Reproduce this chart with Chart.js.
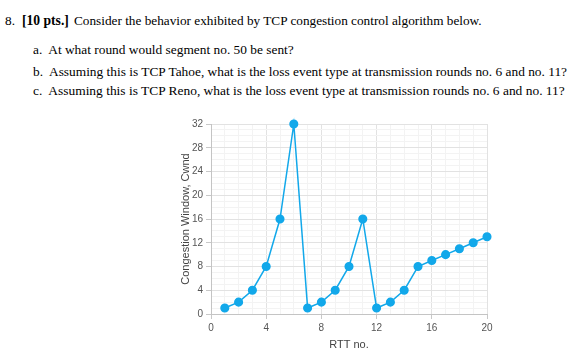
<!DOCTYPE html>
<html><head><meta charset="utf-8">
<script src="https://cdn.jsdelivr.net/npm/chart.js@4/dist/chart.umd.min.js"></script>
<style>
html,body{margin:0;padding:0;background:#fff;width:576px;height:356px;overflow:hidden}
.q{position:absolute;font-family:"Liberation Serif","Times New Roman",serif;font-size:13.4px;color:#000;white-space:nowrap;line-height:16px}
#wrap{position:absolute;left:160px;top:110px;width:340px;height:246px}
</style></head><body>
<div class="q" id="n8" style="left:5px;top:13px;font-size:14px">8.</div>
<div class="q" style="left:22px;top:13px;font-size:13.6px"><b>[10 pts.]</b></div>
<div class="q" id="l1" style="left:74px;top:13px;font-size:14.5px">Consider the behavior exhibited by TCP congestion control algorithm below.</div>
<div class="q" id="la" style="left:33px;top:42px">a.&nbsp; At what round would segment no. 50 be sent?</div>
<div class="q" id="lb" style="left:33px;top:64px">b.&nbsp; Assuming this is TCP Tahoe, what is the loss event type at transmission rounds no. 6 and no. 11?</div>
<div class="q" id="lc" style="left:33px;top:83px">c.&nbsp; Assuming this is TCP Reno, what is the loss event type at transmission rounds no. 6 and no. 11?</div>
<div id="wrap"><canvas id="c" width="340" height="246"></canvas></div>
<script>
const rttRounds = [1,2,3,4,5,6,7,8,9,10,11,12,13,14,15,16,17,18,19,20];
const cwnd = [1,2,4,8,16,32,1,2,4,8,16,1,2,4,8,9,10,11,12,13];
const xTickLabels = [0,4,8,12,16,20];
const yTickLabels = [0,4,8,12,16,20,24,28,32];
const xTitle = 'RTT no.';
const yTitle = 'Congestion Window, Cwnd';

// fit question text widths
function fit(id, width){
  const el = document.getElementById(id);
  const fs = parseFloat(getComputedStyle(el).fontSize);
  const w = el.getBoundingClientRect().width;
  el.style.fontSize = (fs * width / w) + 'px';
}
fit('l1', 408);
fit('lb', 534);
fit('lc', 532);
document.getElementById('la').style.fontSize = document.getElementById('lb').style.fontSize;
document.getElementById('n8').style.fontSize = document.getElementById('l1').style.fontSize;

const blue = '#12a8ea';
const major = '#e2e2e2', minor = '#f3f3f3';
function gridCol(list){return ctx => (ctx.tick && list.includes(ctx.tick.value)) ? major : minor;}
function tickCol(list){return ctx => (ctx.tick && list.includes(ctx.tick.value)) ? '#c8c8c8' : 'rgba(0,0,0,0)';}

new Chart(document.getElementById('c'), {
  type: 'line',
  data: { datasets: [{
    data: rttRounds.map((r,i)=>({x:r,y:cwnd[i]})),
    borderColor: blue, backgroundColor: blue, pointBackgroundColor: blue,
    pointBorderColor: blue, pointRadius: 3.8, borderWidth: 1.5, tension: 0
  }]},
  options: {
    responsive:false, animation:false, devicePixelRatio:1,
    plugins:{legend:{display:false}, tooltip:{enabled:false}},
    layout:{padding:{left:15,top:14,right:13,bottom:0}},
    clip:false,
    scales:{
      x:{type:'linear', min:0, max:20,
        afterBuildTicks: s => { s.ticks = []; for(let v=0; v<=20; v++) s.ticks.push({value:v}); },
        ticks:{autoSkip:false, maxRotation:0, color:'#555', font:{family:'"Liberation Sans", Arial, sans-serif', size:10},
          callback:v => xTickLabels.includes(v) ? String(v) : ''},
        grid:{color:gridCol(xTickLabels), tickColor:tickCol(xTickLabels), tickLength:5},
        border:{color:'#c4c4c4'},
        title:{display:true, text:xTitle, color:'#444', font:{family:'"Liberation Sans", Arial, sans-serif', size:11}, padding:{top:0}},
        afterFit: s => { s.height = 42; }
      },
      y:{type:'linear', min:0, max:32,
        afterBuildTicks: s => { s.ticks = []; for(let v=0; v<=32; v++) s.ticks.push({value:v}); },
        ticks:{autoSkip:false, color:'#555', font:{family:'"Liberation Sans", Arial, sans-serif', size:10},
          callback:v => yTickLabels.includes(v) ? String(v) : ''},
        grid:{color:gridCol(yTickLabels), tickColor:tickCol(yTickLabels), tickLength:5},
        border:{color:'#c4c4c4'},
        title:{display:true, text:yTitle, color:'#444', font:{family:'"Liberation Sans", Arial, sans-serif', size:11}, padding:{bottom:4}},
        afterFit: s => { s.width = 36; }
      }
    }
  }
});
</script>
</body></html>
